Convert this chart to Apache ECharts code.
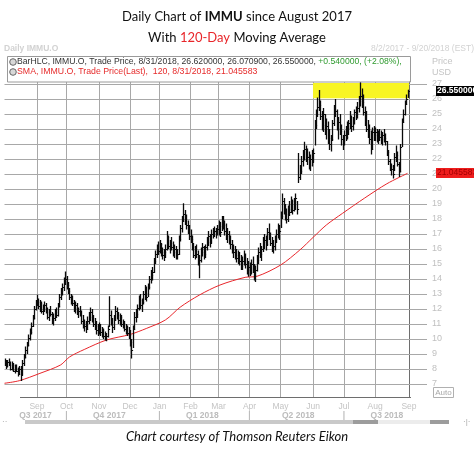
<!DOCTYPE html>
<html><head><meta charset="utf-8">
<script src="https://cdn.jsdelivr.net/npm/echarts@6/dist/echarts.min.js"></script>
<style>html,body{margin:0;padding:0;background:#fff}#c{width:474px;height:449px}</style>
</head><body><div id="c"></div>
<script>
// ---------- data ----------
const firstDay = '2017-08-02';
const axisEndDay = '2018-09-04';
const holidays = ['2017-09-04','2017-11-23','2017-12-25','2018-01-01','2018-01-15','2018-02-19','2018-03-30','2018-05-28','2018-07-04','2018-09-03'];
const monthNames = ['Jan','Feb','Mar','Apr','May','Jun','Jul','Aug','Sep','Oct','Nov','Dec'];
const yTicks = [7,8,9,10,11,12,13,14,15,16,17,18,19,20,21,22,23,24,25,26,27];
const quarterLabels = ['Q3 2017','Q4 2017','Q1 2018','Q2 2018','Q3 2018'];
const quarterLabelDates = ['2017-08-31','2017-11-10','2018-02-13','2018-05-17','2018-08-13'];
const quarterBounds = ['2017-10-02','2018-01-02','2018-04-02','2018-07-02'];

const high = [
 8.7,8.6,8.6,8.7,8.5,8.5,8.4,8.3,8.3,8.1,8.2,8.2,8.6,9.0,9.5,9.8,10.3,10.7,11.1,11.6,12.2,12.6,
 12.95,12.7,12.6,12.5,12.3,12.5,12.4,12.1,12.0,12.2,11.8,11.7,12.0,12.1,12.4,13.0,13.4,13.7,14.1,14.5,
 14.2,13.8,13.4,13.0,12.9,12.6,12.5,12.4,12.1,12.2,11.9,11.6,11.3,11.2,11.5,11.8,12.1,12.0,11.6,11.4,11.2,11.0,
 11.1,11.0,10.8,10.7,10.5,10.4,10.9,12.85,11.9,11.4,11.6,12.2,12.1,11.8,11.7,11.6,11.3,11.2,11.0,10.9,10.8,
 10.6,10.0,10.9,11.8,12.0,12.3,12.9,13.0,12.7,13.2,13.6,13.5,13.7,14.2,14.6,14.8,15.4,15.9,16.3,16.5,
 16.6,16.4,16.1,16.0,16.3,17.2,16.9,16.6,16.8,16.5,16.3,16.2,16.0,16.9,17.6,18.2,19.05,18.6,18.3,17.9,17.6,
 17.3,16.9,16.4,16.2,16.3,15.9,15.6,16.1,16.4,16.2,16.3,16.8,17.2,17.0,17.3,17.4,17.5,17.4,17.6,
 17.9,17.8,18.2,18.2,17.9,17.7,17.4,17.2,16.9,16.6,16.3,16.2,16.0,15.9,15.8,15.6,15.5,15.9,15.7,15.4,15.2,
 15.1,15.3,15.5,15.0,14.9,15.6,16.1,16.4,16.2,16.8,17.0,16.9,17.4,17.7,17.1,16.8,16.6,16.9,17.3,17.7,17.6,
 18.5,19.7,19.4,19.0,18.7,18.9,19.2,19.5,19.3,19.4,19.7,19.2,22.4,21.6,22.2,22.6,23.15,22.9,22.7,22.5,22.3,22.6,
 22.7,24.6,25.3,26.1,26.6,25.9,25.2,25.4,25.0,24.7,24.5,24.0,23.6,24.6,25.6,26.0,25.3,24.8,25.0,24.3,23.6,
 23.9,24.2,24.5,24.6,25.2,24.9,24.8,25.3,25.5,25.8,26.2,27.27,26.7,26.3,25.5,25.2,24.6,24.3,23.9,24.1,24.2,
 24.1,24.0,23.9,24.0,23.9,23.8,24.0,23.7,23.2,22.6,22.0,21.7,21.6,22.4,22.9,22.5,21.8,23.0,24.7,25.3,25.9,26.3,26.62
];
const low = [
 8.2,8.0,8.1,8.2,7.9,7.9,7.8,7.7,7.8,7.5,7.6,7.2,7.6,8.2,8.7,9.0,9.5,9.9,10.3,10.8,11.3,11.9,
 12.2,12.0,11.8,11.7,11.6,11.8,11.7,11.3,11.2,11.5,11.0,10.9,11.2,11.4,11.5,12.1,12.6,12.9,13.2,13.6,
 13.3,13.0,12.6,12.3,12.2,11.8,11.7,11.6,11.4,11.5,11.0,10.7,10.5,10.4,10.6,11.0,11.2,11.1,10.8,10.6,10.3,10.2,
 10.3,10.2,10.1,10.0,9.9,9.85,10.1,10.8,10.9,10.4,10.6,11.2,11.3,11.0,10.9,10.8,10.7,10.5,10.3,10.2,10.0,
 9.5,8.7,9.4,10.6,11.1,11.4,11.9,12.0,11.8,12.3,12.6,12.5,12.8,13.3,13.7,13.9,14.4,15.0,15.4,15.6,
 15.7,15.5,15.3,15.2,15.4,15.9,16.0,15.7,15.9,15.5,15.4,15.3,15.3,15.6,16.5,17.1,17.8,17.6,17.3,17.0,16.6,
 16.4,15.9,15.4,15.3,15.4,14.9,14.05,15.1,15.5,15.3,15.4,15.9,16.2,16.1,16.4,16.7,16.8,16.7,16.9,
 16.9,16.8,17.2,17.3,16.9,16.6,16.4,16.3,16.0,15.7,15.4,15.3,15.1,15.0,14.9,14.6,14.6,14.9,14.7,14.3,14.15,
 14.2,14.3,14.4,13.9,13.8,14.5,15.0,15.4,15.2,15.8,16.0,15.9,16.2,16.6,16.2,15.8,15.7,15.9,16.4,16.7,16.6,
 17.4,18.0,18.3,17.9,17.7,17.8,18.2,18.4,18.3,18.5,18.6,18.3,20.4,20.6,21.0,21.5,21.9,21.8,21.6,21.3,21.2,21.5,
 21.8,22.9,24.0,24.8,25.2,24.6,23.9,23.8,23.6,23.3,23.0,22.6,22.5,23.2,24.2,24.8,23.9,23.3,23.6,22.9,22.6,
 22.9,23.2,23.3,23.6,24.0,23.8,23.9,24.3,24.6,24.7,25.1,25.5,25.4,24.9,24.2,23.8,23.4,23.0,22.3,22.6,23.2,
 23.2,23.1,23.0,23.2,23.0,22.9,23.1,22.9,22.2,21.6,21.2,20.9,20.7,21.2,21.8,21.5,20.8,21.1,22.8,24.4,24.9,25.6,26.0709
];
const close = [
 8.4,8.2,8.5,8.3,8.0,8.3,7.9,8.1,7.9,7.7,8.0,7.6,8.4,8.8,9.3,9.6,10.1,10.5,10.9,11.4,12.0,12.3,
 12.5,12.2,12.4,11.9,12.1,12.3,11.8,11.5,11.9,11.7,11.3,11.4,11.8,11.6,12.2,12.8,13.2,13.5,13.9,14.0,
 13.6,13.2,12.8,12.6,12.4,12.1,12.3,11.8,11.9,11.6,11.2,11.0,10.9,10.7,11.2,11.5,11.8,11.4,11.0,10.9,10.6,10.5,
 10.8,10.5,10.6,10.2,10.1,10.2,10.7,11.6,11.0,10.8,11.3,11.9,11.6,11.3,11.5,11.0,11.1,10.7,10.8,10.4,10.3,
 9.8,9.3,10.7,11.5,11.7,12.1,12.6,12.3,12.5,13.0,13.1,12.8,13.5,14.0,14.3,14.5,15.2,15.7,16.0,15.9,
 16.3,15.8,15.6,15.8,16.0,16.8,16.2,16.4,16.1,15.8,16.0,15.6,15.7,16.7,17.4,17.9,18.3,17.9,17.6,17.3,16.9,
 16.7,16.1,15.6,15.9,15.7,15.2,15.3,15.8,16.1,15.7,16.1,16.5,16.9,16.4,17.0,17.1,17.2,17.0,17.3,
 17.5,17.1,17.9,17.6,17.2,16.9,17.0,16.6,16.3,16.0,15.8,15.6,15.4,15.6,15.2,14.9,15.2,15.5,15.0,14.6,14.8,
 14.5,15.0,14.7,14.3,14.6,15.3,15.8,15.7,16.0,16.5,16.6,16.3,17.1,16.9,16.4,16.1,16.2,16.7,17.0,17.4,17.2,
 18.2,19.2,18.6,18.3,18.0,18.7,18.5,19.2,18.6,19.1,19.4,18.7,20.8,21.2,21.9,22.0,22.7,22.2,22.1,21.6,22.0,21.8,
 22.4,24.3,25.0,25.5,25.6,24.9,24.3,25.0,24.0,24.2,23.4,23.0,23.3,24.4,25.3,25.2,24.1,24.5,23.9,23.3,23.2,
 23.6,23.5,24.1,24.4,24.8,24.2,24.6,25.1,25.0,25.4,25.9,26.2,25.8,25.1,24.6,24.0,23.9,23.3,22.7,23.8,23.6,
 23.8,23.4,23.7,23.5,23.3,23.6,23.4,23.2,22.5,21.9,21.5,21.3,21.0,22.1,22.3,21.7,21.2,22.8,24.5,25.0,25.7,26.01,26.55
];
const smaDates = ['2017-08-02','2017-08-16','2017-09-06','2017-09-26','2017-10-04','2017-10-18','2017-11-08','2017-12-01','2017-12-18','2018-01-08','2018-01-23','2018-02-09','2018-03-02','2018-03-27','2018-04-09','2018-05-01','2018-05-18','2018-06-01','2018-06-14','2018-06-29','2018-07-23','2018-08-13','2018-08-31'];
const smaValues = [7.05,7.22,7.71,8.27,8.8,9.3,9.93,10.3,10.7,11.27,12.12,12.93,13.6,14.11,14.18,14.93,15.93,16.77,17.6,18.38,19.4,20.35,21.045583];
const highlightBand = {from:'2018-06-01', top:27.07, bottom:26.05};

// ---------- trading-day categories ----------
const axisDates = [];
(function(){
  const hol = new Set(holidays);
  let d = Date.parse(firstDay+'T00:00:00Z'), end = Date.parse(axisEndDay+'T00:00:00Z');
  while (d <= end) {
    const dt = new Date(d), wd = dt.getUTCDay(), s = dt.toISOString().slice(0,10);
    if (wd !== 0 && wd !== 6 && !hol.has(s)) axisDates.push(s);
    d += 86400000;
  }
})();
const monthOf = s => +s.slice(5,7);
const isMonthStart = i => i > 0 && monthOf(axisDates[i]) !== monthOf(axisDates[i-1]);
const quarterMap = {};
quarterLabelDates.forEach((d,i)=>quarterMap[d]=quarterLabels[i]);
quarterBounds.forEach(d=>quarterMap[d]='|');

const n = Math.min(high.length, low.length, close.length);
const barData = [];
for (let i=0;i<n;i++) barData.push([i, high[i], low[i], close[i]]);
const smaData = smaDates.map((d,i)=>[d, smaValues[i]]);

const last = n-1;
const chg = close[last]-close[last-1];
const legendMain = 'BarHLC, IMMU.O, Trade Price, ' + '8/31/2018, ' + high[last].toFixed(6) + ', ' + low[last].toFixed(6) + ', ' + close[last].toFixed(6) + ', ';
const legendChg = '+' + chg.toFixed(6) + ', (+' + (chg/close[last-1]*100).toFixed(2) + '%),';
const smaLast = smaValues[smaValues.length-1];
const legendSma = 'SMA, IMMU.O, Trade Price(Last),  120, 8/31/2018, ' + smaLast.toFixed(6);

const FONT = '"Liberation Sans", Arial, sans-serif';
const yMin = 7 - 13/15, yMax = 27 + 2/15;

const chart = echarts.init(document.getElementById('c'), null, {renderer:'canvas'});
const option = {
  animation:false,
  backgroundColor:'#fff',
  grid:{left:4.5, right:65, top:82, bottom:52},
  xAxis:[{
    type:'category', data:axisDates, boundaryGap:false,
    axisLine:{show:false}, axisTick:{show:false},
    axisLabel:{interval:(i)=>isMonthStart(i), formatter:(v)=>monthNames[monthOf(v)-1], color:'#c4c4c4', fontSize:8.5, margin:5, fontFamily:FONT},
    splitLine:{show:true, interval:(i)=>isMonthStart(i), lineStyle:{color:'#a8a8a8', width:1}}
  },{
    type:'category', data:axisDates, boundaryGap:false, position:'bottom', offset:9,
    axisLine:{show:false}, axisTick:{show:false}, splitLine:{show:false},
    axisLabel:{interval:(i,v)=>quarterMap[v]!==undefined, formatter:(v)=>quarterMap[v]||'', color:'#bcbcbc', fontWeight:'bold', fontSize:8.5, margin:5, fontFamily:FONT}
  }],
  yAxis:{
    type:'value', position:'right', min:yMin, max:yMax,
    axisLine:{show:true, lineStyle:{color:'#6e6e6e'}},
    axisTick:{show:true, customValues:yTicks, length:18, lineStyle:{color:'#a8a8a8'}},
    axisLabel:{customValues:yTicks, margin:23, color:'#c0c0c0', fontSize:9, fontFamily:FONT},
    splitLine:{show:true, lineStyle:{color:'#a8a8a8', width:1}}
  },
  series:[{
    type:'line', name:'SMA', data:smaData, showSymbol:false, smooth:0.3, z:3,
    lineStyle:{color:'#e8262b', width:1},
    markArea:{silent:true, itemStyle:{color:'#f8f524'},
      data:[[{coord:[highlightBand.from, highlightBand.top]},{coord:[axisDates[axisDates.length-1], highlightBand.bottom]}]]}
  },{
    type:'custom', name:'BarHLC', data:barData, encode:{x:0, y:[1,2,3]}, z:5, clip:true,
    renderItem:function(params, api){
      const i = api.value(0);
      const h = api.coord([i, api.value(1)]);
      const l = api.coord([i, api.value(2)]);
      const c = api.coord([i, api.value(3)]);
      const x = Math.round(h[0]) + 0.5;
      const cy = Math.round(c[1]) + 0.5;
      return {type:'group', children:[
        {type:'line', shape:{x1:x, y1:h[1], x2:x, y2:l[1]}, style:{stroke:'#0a0a0a', lineWidth:1.3}},
        {type:'line', shape:{x1:x, y1:cy, x2:x+1.6, y2:cy}, style:{stroke:'#0a0a0a', lineWidth:1}}
      ]};
    }
  }]
};
chart.setOption(option);

const yClose = chart.convertToPixel({yAxisIndex:0}, close[last]);
const ySma = chart.convertToPixel({yAxisIndex:0}, smaLast);

const g = [
  {type:'text', z:100, style:{x:237, y:17, align:'center', verticalAlign:'middle',
    text:'Daily Chart of {b|IMMU} since August 2017', fontSize:13, fontFamily:'Lato', fill:'#111',
    rich:{b:{fontSize:13, fontFamily:'Lato', fontWeight:'bold', fill:'#111'}}}},
  {type:'text', z:100, style:{x:237, y:38, align:'center', verticalAlign:'middle',
    text:'With {r|120-Day} Moving Average', fontSize:13, fontFamily:'Lato', fill:'#111',
    rich:{r:{fontSize:13, fontFamily:'Lato', fill:'#e8262a'}}}},
  {type:'text', z:100, style:{x:4, y:49, verticalAlign:'middle', text:'Daily IMMU.O', fontSize:8.5, fontWeight:'bold', fontFamily:FONT, fill:'#d2d2d2'}},
  {type:'text', z:100, style:{x:474, y:49, align:'right', verticalAlign:'middle', text:'8/2/2017 - 9/20/2018 (EST)', fontSize:8.5, fontFamily:FONT, fill:'#d2d2d2'}},
  {type:'rect', z:100, shape:{x:7.5, y:56.5, width:403, height:25.5}, style:{fill:'none', stroke:'#9a9a9a', lineWidth:1}},
  {type:'circle', z:101, shape:{cx:13, cy:62, r:3.3}, style:{fill:'#d8d8d8', stroke:'#666', lineWidth:1}},
  {type:'circle', z:101, shape:{cx:13, cy:72, r:3.3}, style:{fill:'#d8d8d8', stroke:'#666', lineWidth:1}},
  {type:'text', z:101, style:{x:17, y:62, verticalAlign:'middle',
    text:'{k|'+legendMain+'}{g|'+legendChg+'}', fontSize:8.65, fontFamily:FONT, fill:'#333',
    rich:{k:{fontSize:8.65, fontFamily:FONT, fill:'#333'}, g:{fontSize:8.65, fontFamily:FONT, fill:'#2e9a2e'}}}},
  {type:'text', z:101, style:{x:17, y:72, verticalAlign:'middle', text:legendSma, fontSize:8.75, fontFamily:FONT, fill:'#e62b2b'}},
  {type:'text', z:100, style:{x:432, y:62, verticalAlign:'middle', text:'Price', fontSize:9, fontFamily:FONT, fill:'#c4c4c4'}},
  {type:'text', z:100, style:{x:432, y:73, verticalAlign:'middle', text:'USD', fontSize:9, fontFamily:FONT, fill:'#c4c4c4'}},
  {type:'line', z:100, shape:{x1:20, y1:397.5, x2:411, y2:397.5}, style:{stroke:'#6e6e6e', lineWidth:1}},
  {type:'rect', z:100, shape:{x:433.5, y:387.5, width:20, height:10}, style:{fill:'#fff', stroke:'#b0b0b0', lineWidth:1}},
  {type:'text', z:101, style:{x:443.5, y:392.5, align:'center', verticalAlign:'middle', text:'Auto', fontSize:8, fontFamily:FONT, fill:'#a8a8a8'}},
  {type:'rect', z:100, shape:{x:25, y:420, width:328, height:4}, style:{fill:'#c9c9c9'}},
  {type:'rect', z:100, shape:{x:353, y:420, width:25, height:4}, style:{fill:'#9c9c9c'}},
  {type:'rect', z:100, shape:{x:378, y:420, width:52, height:4}, style:{fill:'#ececec'}},
  {type:'rect', z:100, shape:{x:430, y:420, width:19, height:4}, style:{fill:'#9c9c9c'}},
  {type:'text', z:100, style:{x:2, y:422, verticalAlign:'middle', text:'··', fontSize:8, fontFamily:FONT, fill:'#aaa'}},
  {type:'text', z:100, style:{x:463, y:422, verticalAlign:'middle', text:'·|·', fontSize:8, fontFamily:FONT, fill:'#aaa'}},
  {type:'text', z:100, style:{x:237, y:437, align:'center', verticalAlign:'middle', text:'Chart courtesy of Thomson Reuters Eikon', fontSize:13, fontStyle:'italic', fontFamily:'Lato', fill:'#111'}},
  {type:'rect', z:110, shape:{x:436, y:Math.round(yClose)-5, width:38, height:10}, style:{fill:'#000'}},
  {type:'text', z:111, style:{x:437, y:Math.round(yClose), verticalAlign:'middle', text:close[last].toFixed(6), fontSize:8.5, fontWeight:'bold', fontFamily:FONT, fill:'#fff'}},
  {type:'rect', z:110, shape:{x:436, y:Math.round(ySma)-5, width:38, height:10}, style:{fill:'#ee1c1c'}},
  {type:'text', z:111, style:{x:437, y:Math.round(ySma), verticalAlign:'middle', text:smaLast.toFixed(6), fontSize:8.5, fontFamily:FONT, fill:'#a40000'}}
];
chart.setOption({graphic:g});
</script>
</body></html>
